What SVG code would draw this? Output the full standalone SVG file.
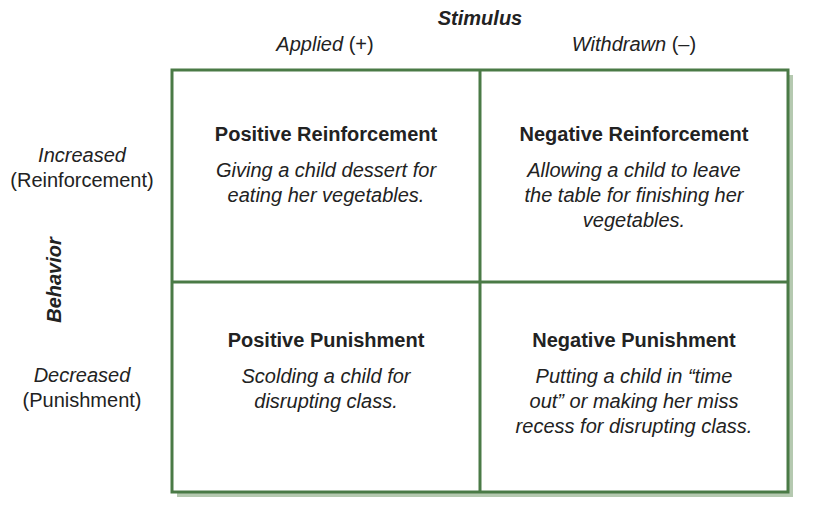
<svg xmlns="http://www.w3.org/2000/svg" width="814" height="514" viewBox="0 0 814 514">
<style>
text{font-family:"Liberation Sans",Arial,sans-serif;font-size:20px;fill:#222;text-anchor:middle}
.b{font-weight:bold}
.i{font-style:italic}
.g{stroke:#4a7a46;fill:none}
</style>
<rect width="814" height="514" fill="#fff"/>
<rect x="177" y="75" width="616" height="422" fill="#b5c9b0"/>
<rect x="172" y="70" width="616" height="422" style="fill:#fff;stroke:#4a7a46" stroke-width="3"/>
<g id="connectors">
<line x1="480" y1="70" x2="480" y2="492" class="g" stroke-width="3"/>
<line x1="172" y1="282" x2="788" y2="282" class="g" stroke-width="3"/>
</g>
<g id="headers">
<text x="480" y="25" class="b i">Stimulus</text>
<text x="325" y="51"><tspan class="i">Applied</tspan> (+)</text>
<text x="634" y="51"><tspan class="i">Withdrawn</tspan> (–)</text>
<text x="82" y="162" class="i">Increased</text>
<text x="82" y="187">(Reinforcement)</text>
<text x="82" y="382" class="i">Decreased</text>
<text x="82" y="407">(Punishment)</text>
<text transform="translate(61,280) rotate(-90)" class="b i">Behavior</text>
</g>
<g id="pr">
<text x="326" y="141" class="b">Positive Reinforcement</text>
<text x="326" y="177" class="i">Giving a child dessert for</text>
<text x="326" y="202" class="i">eating her vegetables.</text>
</g>
<g id="nr">
<text x="634" y="141" class="b">Negative Reinforcement</text>
<text x="634" y="177" class="i">Allowing a child to leave</text>
<text x="634" y="202" class="i">the table for finishing her</text>
<text x="634" y="227" class="i">vegetables.</text>
</g>
<g id="pp">
<text x="326" y="347" class="b">Positive Punishment</text>
<text x="326" y="383" class="i">Scolding a child for</text>
<text x="326" y="408" class="i">disrupting class.</text>
</g>
<g id="np">
<text x="634" y="347" class="b">Negative Punishment</text>
<text x="634" y="383" class="i">Putting a child in “time</text>
<text x="634" y="408" class="i">out” or making her miss</text>
<text x="634" y="433" class="i">recess for disrupting class.</text>
</g>
</svg>
